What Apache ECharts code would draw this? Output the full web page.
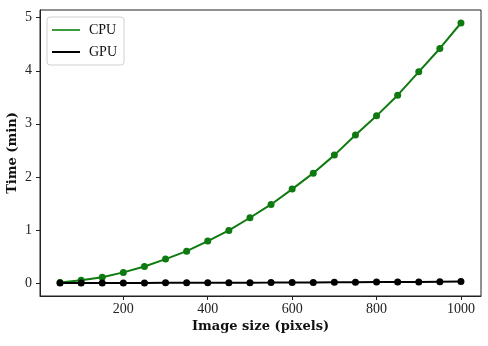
<!DOCTYPE html>
<html><head><meta charset="utf-8">
<script src="https://cdn.jsdelivr.net/npm/echarts@6/dist/echarts.min.js"></script>
<style>html,body{margin:0;padding:0;background:#fff}#c{width:488px;height:346px}</style>
</head><body><div id="c"></div>
<script>
const imageSizes = [50,100,150,200,250,300,350,400,450,500,550,600,650,700,750,800,850,900,950,1000];
const cpuTime = [0.01,0.05,0.11,0.20,0.31,0.45,0.60,0.79,0.99,1.23,1.48,1.77,2.07,2.41,2.79,3.15,3.54,3.98,4.42,4.90];
const gpuTime = [0.000,0.001,0.001,0.002,0.002,0.003,0.004,0.005,0.006,0.007,0.008,0.010,0.011,0.013,0.015,0.017,0.019,0.021,0.024,0.027];
const xTicks = [200,400,600,800,1000];
const yTicks = [0,1,2,3,4,5];

const serif = '"Liberation Serif", "DejaVu Serif", serif';
const chart = echarts.init(document.getElementById('c'), null, {renderer:'canvas'});
const pair = (xs, ys) => xs.map((x,i)=>[x, ys[i]]);
chart.setOption({
  animation: false,
  backgroundColor: '#fff',
  grid: {left: 40, top: 10, right: 7, bottom: 50, show: true, borderColor: '#222', borderWidth: 1,
         outerBoundsMode: 'none', containLabel: false},
  legend: {
    left: 47, top: 17, orient: 'vertical',
    itemWidth: 28, itemHeight: 2, itemGap: 8,
    backgroundColor: '#fff', borderColor: '#d0d0d0', borderWidth: 1, borderRadius: 3,
    padding: [6, 7, 6, 5],
    textStyle: {fontFamily: serif, fontSize: 14, color: '#111', padding: [0,0,0,4]},
    data: [
      {name: 'CPU', icon: 'rect', itemStyle: {color: '#3d9a3d'}},
      {name: 'GPU', icon: 'rect', itemStyle: {color: '#000'}}
    ]
  },
  xAxis: {
    type: 'value', min: 2.5, max: 1047.5,
    name: 'Image size (pixels)', nameLocation: 'middle', nameGap: 24, nameMoveOverlap: false,
    nameTextStyle: {fontFamily: '"DejaVu Serif", serif', fontWeight: 'bold', fontSize: 13, color: '#111'},
    axisLine: {show: true, onZero: false, lineStyle: {color: '#222', width: 1}},
    axisTick: {show: true, length: 4, lineStyle: {color: '#222'}, customValues: xTicks},
    axisLabel: {fontFamily: serif, fontSize: 14, color: '#222', margin: 6, customValues: xTicks,
                formatter: v => String(v)},
    splitLine: {show: false}
  },
  yAxis: {
    type: 'value', min: -0.245, max: 5.145,
    name: 'Time (min)', nameLocation: 'middle', nameGap: 21, nameRotate: 90, nameMoveOverlap: false,
    nameTextStyle: {fontFamily: '"DejaVu Serif", serif', fontWeight: 'bold', fontSize: 13, color: '#111'},
    axisLine: {show: true, onZero: false, lineStyle: {color: '#222', width: 1}},
    axisTick: {show: true, length: 4, lineStyle: {color: '#222'}, customValues: yTicks},
    axisLabel: {fontFamily: serif, fontSize: 14, color: '#222', margin: 8, customValues: yTicks,
                formatter: v => String(v)},
    splitLine: {show: false}
  },
  series: [
    {name: 'CPU', type: 'line', data: pair(imageSizes, cpuTime), symbol: 'circle', symbolSize: 7,
     itemStyle: {color: '#0f7a0f'}, lineStyle: {color: '#0f7a0f', width: 2}},
    {name: 'GPU', type: 'line', data: pair(imageSizes, gpuTime), symbol: 'circle', symbolSize: 7,
     itemStyle: {color: '#000'}, lineStyle: {color: '#000', width: 2}}
  ]
});
</script></body></html>
